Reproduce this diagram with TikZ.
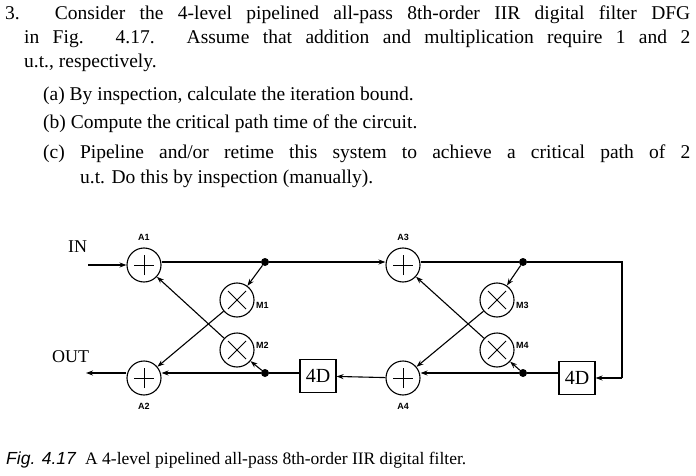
\documentclass[tikz,border=0pt]{standalone}
\usepackage{fontspec}
\setmainfont{Liberation Serif}
\setsansfont{Liberation Sans}
\usetikzlibrary{arrows.meta}
\begin{document}
\begin{tikzpicture}[x=1pt,y=-1pt,
  txt/.style={anchor=base west,inner sep=0pt,font=\fontsize{19.5}{22}\selectfont},
  opnode/.style={circle,draw,line width=1.1pt,minimum size=34pt,inner sep=0pt},
  dlynode/.style={draw,line width=1.1pt,minimum width=36pt,minimum height=33pt,inner sep=0pt,font=\fontsize{20}{22}\selectfont},
  lbl/.style={inner sep=0pt,font=\sffamily\bfseries\fontsize{9}{10}\selectfont},
  dotc/.style={circle,fill,minimum size=8pt,inner sep=0pt},
  wire/.style={line width=1.1pt,-{Stealth[length=7pt,width=5pt]}},
  plain/.style={line width=1.1pt}]
\useasboundingbox (0,0) rectangle (696,476);
\node[txt] (l1) at (5,20) {\makebox[685pt][s]{3. Consider the 4-level pipelined all-pass 8th-order IIR digital filter DFG}};
\node[txt] (l2) at (24,44) {\makebox[666pt][s]{in Fig. 4.17. Assume that addition and multiplication require 1 and 2}};
\node[txt] (l3) at (24,68) {u.t., respectively.};
\node[txt] (qa) at (43,101) {(a)\ By inspection, calculate the iteration bound.};
\node[txt] (qb) at (43,129) {(b)\ Compute the critical path time of the circuit.};
\node[txt] (qc) at (43,158) {\makebox[647pt][s]{(c)\ Pipeline and/or retime this system to achieve a critical path of 2}};
\node[txt] (qc2) at (80,183) {u.t. Do this by inspection (manually).};

\tikzset{plus/.style={opnode,path picture={\draw[line width=1pt] ([xshift=-10pt]path picture bounding box.center) -- ([xshift=10pt]path picture bounding box.center) ([yshift=-10pt]path picture bounding box.center) -- ([yshift=10pt]path picture bounding box.center);}},
  times/.style={opnode,path picture={\draw[line width=1pt] ([shift={(-9pt,-9pt)}]path picture bounding box.center) -- ([shift={(9pt,9pt)}]path picture bounding box.center) ([shift={(-9pt,9pt)}]path picture bounding box.center) -- ([shift={(9pt,-9pt)}]path picture bounding box.center);}}}
\node[plus] (A1) at (144,265) {};
\node[plus] (A2) at (144,378) {};
\node[plus] (A3) at (403,265) {};
\node[plus] (A4) at (403,378) {};
\node[times] (M1) at (237,300) {};
\node[times] (M2) at (237,350) {};
\node[times] (M3) at (497,300) {};
\node[times] (M4) at (497,350) {};
\node[lbl,anchor=west] (lM1) at (256,305) {M1};
\node[lbl,anchor=west] (lM2) at (256,345) {M2};
\node[lbl,anchor=west] (lM3) at (516,305) {M3};
\node[lbl,anchor=west] (lM4) at (516,345) {M4};
\node[lbl] (lA1) at (144,237) {A1};
\node[lbl] (lA2) at (144,406) {A2};
\node[lbl] (lA3) at (403,237) {A3};
\node[lbl] (lA4) at (403,406) {A4};
\node[dotc] (d1) at (265,262) {};
\node[dotc] (d2) at (265,373) {};
\node[dotc] (d3) at (523,262) {};
\node[dotc] (d4) at (523,373) {};
\node[dlynode] (D1) at (318,376) {4D};
\node[dlynode] (D2) at (577,378) {4D};
\node[txt,font=\fontsize{18}{20}\selectfont] (in) at (68,252) {IN};
\node[txt,font=\fontsize{18}{20}\selectfont] (out) at (52,362) {OUT};
\coordinate (inS) at (88,265);
\coordinate (outE) at (86,373);
\coordinate (rc1) at (622,265);
\coordinate (rc2) at (622,378);

\draw[wire] (inS) -- (A1);
\draw[plain] (A1.east |- d1) -- (d1);
\draw[wire] (d1) -- (A3.west |- d1);
\draw[plain] (A3.east |- d3) -- (d3);
\draw[plain] (d3) -- (rc1 |- d3) -- (rc2);
\draw[wire] (rc2) -- (D2);
\draw[plain] (D2.west |- d4) -- (d4);
\draw[wire] (d4) -- (A4.east |- d4);
\draw[wire] (A4) -- (D1);
\draw[plain] (D1.west |- d2) -- (d2);
\draw[wire] (d2) -- (A2.east |- d2);
\draw[wire] (A2.west |- d2) -- (outE);
\draw[wire] (d1) -- (M1);
\draw[wire] (d2) -- (M2);
\draw[wire] (d3) -- (M3);
\draw[wire] (d4) -- (M4);
\draw[wire] (M1) -- (A2);
\draw[wire] (M2) -- (A1);
\draw[wire] (M3) -- (A4);
\draw[wire] (M4) -- (A3);

\node[txt,font=\fontsize{17.5}{20}\selectfont] (cap) at (6,464) {\textsf{\textit{Fig. 4.17}}\ \ A 4-level pipelined all-pass 8th-order IIR digital filter.};
\end{tikzpicture}
\end{document}
